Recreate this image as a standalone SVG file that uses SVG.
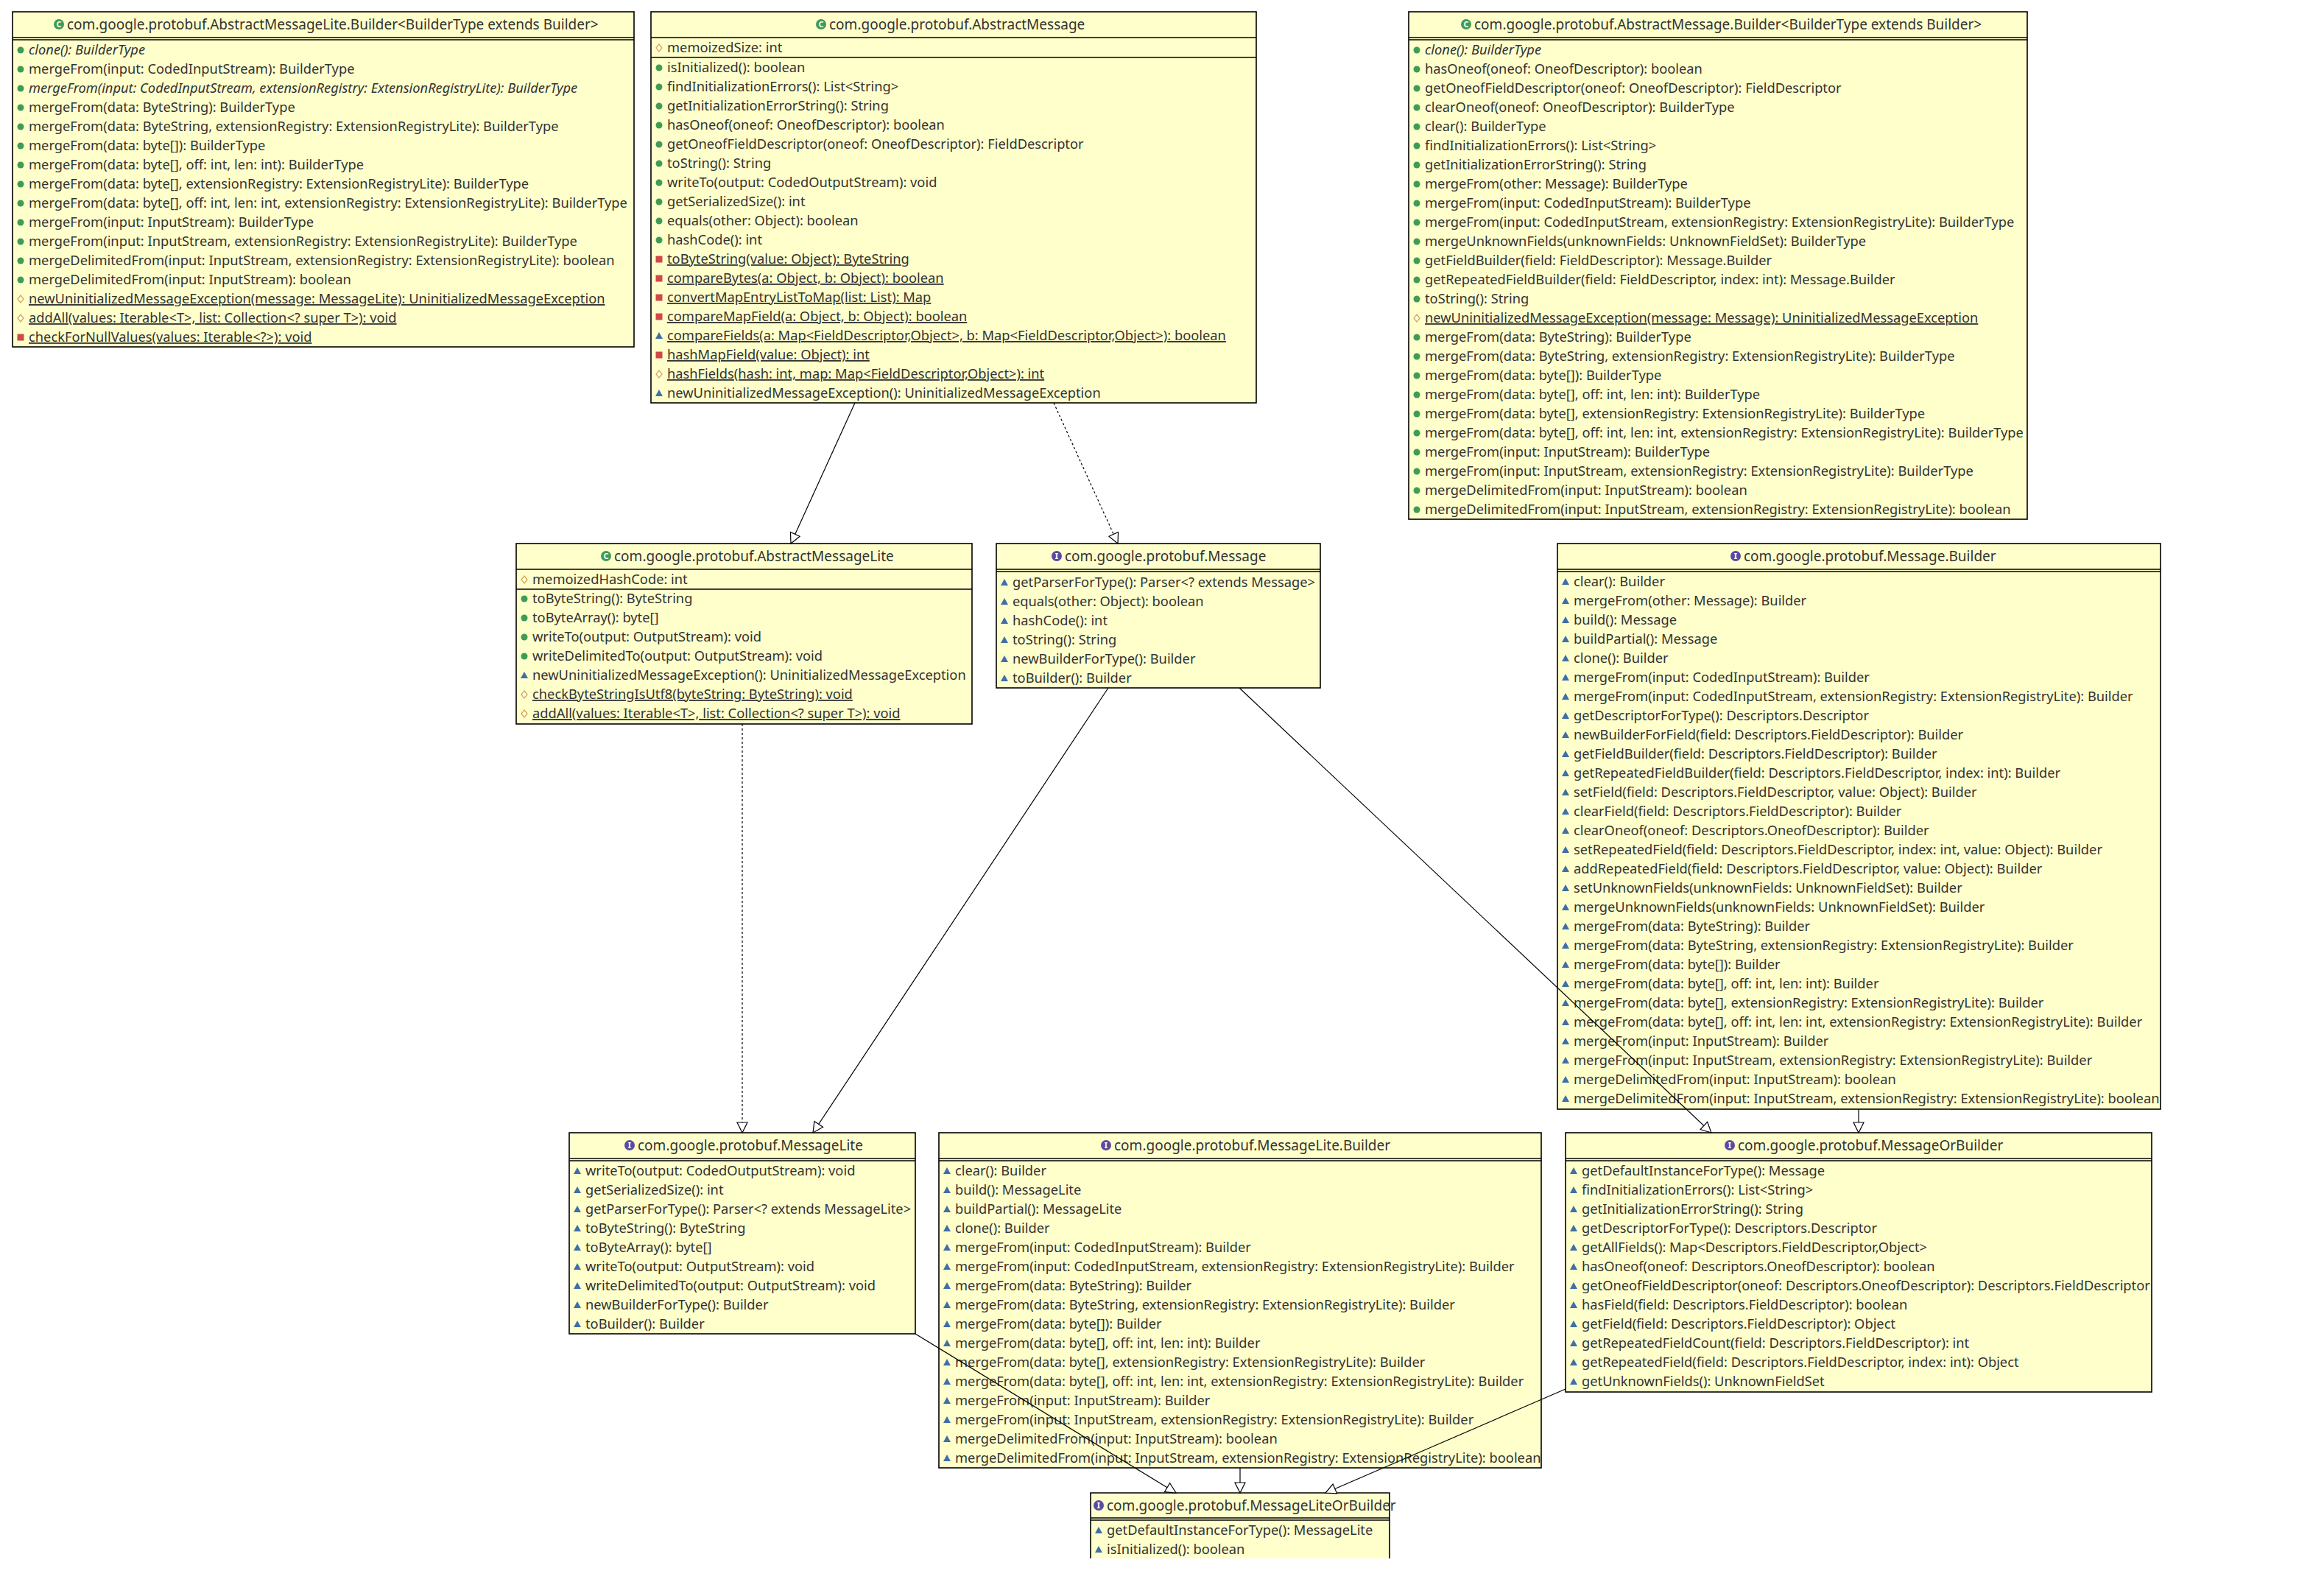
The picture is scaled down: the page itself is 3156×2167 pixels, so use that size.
<svg xmlns="http://www.w3.org/2000/svg" xmlns:xlink="http://www.w3.org/1999/xlink" width="3156" height="2167" viewBox="0 0 3156 2167">
<style>
.box{fill:#ffffcc;stroke:#000;stroke-width:1.6}
.ln{stroke:#000;stroke-width:1.6;fill:none}
text{font-family:"Noto Sans","DejaVu Sans",sans-serif;font-size:18.3px;fill:#333}
.h{font-size:19px}
.u{text-decoration:underline}
.i{font-style:italic}
.ic{font-size:11px;font-weight:bold;fill:#fff;text-anchor:middle}
.e{stroke:#000;stroke-width:1.2;fill:none;marker-end:url(#tri)}
.d{stroke-dasharray:3,3}
</style>
<defs>
<marker id="tri" markerWidth="16" markerHeight="16" refX="15" refY="8" orient="auto" markerUnits="userSpaceOnUse"><path d="M1,1 L15,8 L1,15 z" fill="#fff" stroke="#000" stroke-width="1.2"/></marker>
<circle id="p" r="4.5" fill="#3f9c55"/>
<path id="k" d="M0,-5 L5,4 L-5,4 z" fill="#3e6fa8"/>
<rect id="r" x="-4.5" y="-4.5" width="9" height="9" fill="#d04848"/>
<path id="o" d="M0,-5 L4,0 L0,5 L-4,0 z" fill="#fff" stroke="#d8a848" stroke-width="1.3"/>
</defs>

<g id="AbstractMessageLiteBuilder">
<rect class="box" x="17" y="16" width="844" height="455"/>
<line class="ln" x1="17" y1="51" x2="861" y2="51"/><line class="ln" x1="17" y1="54" x2="861" y2="54"/>
<circle cx="80" cy="33" r="7" fill="#3f9c55"/><text class="ic" x="80" y="37">C</text>
<text class="h" x="91" y="40">com.google.protobuf.AbstractMessageLite.Builder&lt;BuilderType extends Builder&gt;</text>
<use href="#p" x="28" y="68"/><text class="i" x="39" y="74">clone(): BuilderType</text>
<use href="#p" x="28" y="94"/><text x="39" y="100">mergeFrom(input: CodedInputStream): BuilderType</text>
<use href="#p" x="28" y="120"/><text class="i" x="39" y="126">mergeFrom(input: CodedInputStream, extensionRegistry: ExtensionRegistryLite): BuilderType</text>
<use href="#p" x="28" y="146"/><text x="39" y="152">mergeFrom(data: ByteString): BuilderType</text>
<use href="#p" x="28" y="172"/><text x="39" y="178">mergeFrom(data: ByteString, extensionRegistry: ExtensionRegistryLite): BuilderType</text>
<use href="#p" x="28" y="198"/><text x="39" y="204">mergeFrom(data: byte[]): BuilderType</text>
<use href="#p" x="28" y="224"/><text x="39" y="230">mergeFrom(data: byte[], off: int, len: int): BuilderType</text>
<use href="#p" x="28" y="250"/><text x="39" y="256">mergeFrom(data: byte[], extensionRegistry: ExtensionRegistryLite): BuilderType</text>
<use href="#p" x="28" y="276"/><text x="39" y="282">mergeFrom(data: byte[], off: int, len: int, extensionRegistry: ExtensionRegistryLite): BuilderType</text>
<use href="#p" x="28" y="302"/><text x="39" y="308">mergeFrom(input: InputStream): BuilderType</text>
<use href="#p" x="28" y="328"/><text x="39" y="334">mergeFrom(input: InputStream, extensionRegistry: ExtensionRegistryLite): BuilderType</text>
<use href="#p" x="28" y="354"/><text x="39" y="360">mergeDelimitedFrom(input: InputStream, extensionRegistry: ExtensionRegistryLite): boolean</text>
<use href="#p" x="28" y="380"/><text x="39" y="386">mergeDelimitedFrom(input: InputStream): boolean</text>
<use href="#o" x="28" y="406"/><text class="u" x="39" y="412">newUninitializedMessageException(message: MessageLite): UninitializedMessageException</text>
<use href="#o" x="28" y="432"/><text class="u" x="39" y="438">addAll(values: Iterable&lt;T&gt;, list: Collection&lt;? super T&gt;): void</text>
<use href="#r" x="28" y="458"/><text class="u" x="39" y="464">checkForNullValues(values: Iterable&lt;?&gt;): void</text>
</g>

<g id="AbstractMessage">
<rect class="box" x="884" y="16" width="822" height="531"/>
<line class="ln" x1="884" y1="51" x2="1706" y2="51"/><line class="ln" x1="884" y1="78" x2="1706" y2="78"/>
<circle cx="1115" cy="33" r="7" fill="#3f9c55"/><text class="ic" x="1115" y="37">C</text>
<text class="h" x="1126" y="40">com.google.protobuf.AbstractMessage</text>
<use href="#o" x="895" y="65"/><text x="906" y="71">memoizedSize: int</text>
<use href="#p" x="895" y="92"/><text x="906" y="98">isInitialized(): boolean</text>
<use href="#p" x="895" y="118"/><text x="906" y="124">findInitializationErrors(): List&lt;String&gt;</text>
<use href="#p" x="895" y="144"/><text x="906" y="150">getInitializationErrorString(): String</text>
<use href="#p" x="895" y="170"/><text x="906" y="176">hasOneof(oneof: OneofDescriptor): boolean</text>
<use href="#p" x="895" y="196"/><text x="906" y="202">getOneofFieldDescriptor(oneof: OneofDescriptor): FieldDescriptor</text>
<use href="#p" x="895" y="222"/><text x="906" y="228">toString(): String</text>
<use href="#p" x="895" y="248"/><text x="906" y="254">writeTo(output: CodedOutputStream): void</text>
<use href="#p" x="895" y="274"/><text x="906" y="280">getSerializedSize(): int</text>
<use href="#p" x="895" y="300"/><text x="906" y="306">equals(other: Object): boolean</text>
<use href="#p" x="895" y="326"/><text x="906" y="332">hashCode(): int</text>
<use href="#r" x="895" y="352"/><text class="u" x="906" y="358">toByteString(value: Object): ByteString</text>
<use href="#r" x="895" y="378"/><text class="u" x="906" y="384">compareBytes(a: Object, b: Object): boolean</text>
<use href="#r" x="895" y="404"/><text class="u" x="906" y="410">convertMapEntryListToMap(list: List): Map</text>
<use href="#r" x="895" y="430"/><text class="u" x="906" y="436">compareMapField(a: Object, b: Object): boolean</text>
<use href="#k" x="895" y="456"/><text class="u" x="906" y="462">compareFields(a: Map&lt;FieldDescriptor,Object&gt;, b: Map&lt;FieldDescriptor,Object&gt;): boolean</text>
<use href="#r" x="895" y="482"/><text class="u" x="906" y="488">hashMapField(value: Object): int</text>
<use href="#o" x="895" y="508"/><text class="u" x="906" y="514">hashFields(hash: int, map: Map&lt;FieldDescriptor,Object&gt;): int</text>
<use href="#k" x="895" y="534"/><text x="906" y="540">newUninitializedMessageException(): UninitializedMessageException</text>
</g>

<g id="AbstractMessageBuilder">
<rect class="box" x="1913" y="16" width="840" height="689"/>
<line class="ln" x1="1913" y1="51" x2="2753" y2="51"/><line class="ln" x1="1913" y1="54" x2="2753" y2="54"/>
<circle cx="1991" cy="33" r="7" fill="#3f9c55"/><text class="ic" x="1991" y="37">C</text>
<text class="h" x="2002" y="40">com.google.protobuf.AbstractMessage.Builder&lt;BuilderType extends Builder&gt;</text>
<use href="#p" x="1924" y="68"/><text class="i" x="1935" y="74">clone(): BuilderType</text>
<use href="#p" x="1924" y="94"/><text x="1935" y="100">hasOneof(oneof: OneofDescriptor): boolean</text>
<use href="#p" x="1924" y="120"/><text x="1935" y="126">getOneofFieldDescriptor(oneof: OneofDescriptor): FieldDescriptor</text>
<use href="#p" x="1924" y="146"/><text x="1935" y="152">clearOneof(oneof: OneofDescriptor): BuilderType</text>
<use href="#p" x="1924" y="172"/><text x="1935" y="178">clear(): BuilderType</text>
<use href="#p" x="1924" y="198"/><text x="1935" y="204">findInitializationErrors(): List&lt;String&gt;</text>
<use href="#p" x="1924" y="224"/><text x="1935" y="230">getInitializationErrorString(): String</text>
<use href="#p" x="1924" y="250"/><text x="1935" y="256">mergeFrom(other: Message): BuilderType</text>
<use href="#p" x="1924" y="276"/><text x="1935" y="282">mergeFrom(input: CodedInputStream): BuilderType</text>
<use href="#p" x="1924" y="302"/><text x="1935" y="308">mergeFrom(input: CodedInputStream, extensionRegistry: ExtensionRegistryLite): BuilderType</text>
<use href="#p" x="1924" y="328"/><text x="1935" y="334">mergeUnknownFields(unknownFields: UnknownFieldSet): BuilderType</text>
<use href="#p" x="1924" y="354"/><text x="1935" y="360">getFieldBuilder(field: FieldDescriptor): Message.Builder</text>
<use href="#p" x="1924" y="380"/><text x="1935" y="386">getRepeatedFieldBuilder(field: FieldDescriptor, index: int): Message.Builder</text>
<use href="#p" x="1924" y="406"/><text x="1935" y="412">toString(): String</text>
<use href="#o" x="1924" y="432"/><text class="u" x="1935" y="438">newUninitializedMessageException(message: Message): UninitializedMessageException</text>
<use href="#p" x="1924" y="458"/><text x="1935" y="464">mergeFrom(data: ByteString): BuilderType</text>
<use href="#p" x="1924" y="484"/><text x="1935" y="490">mergeFrom(data: ByteString, extensionRegistry: ExtensionRegistryLite): BuilderType</text>
<use href="#p" x="1924" y="510"/><text x="1935" y="516">mergeFrom(data: byte[]): BuilderType</text>
<use href="#p" x="1924" y="536"/><text x="1935" y="542">mergeFrom(data: byte[], off: int, len: int): BuilderType</text>
<use href="#p" x="1924" y="562"/><text x="1935" y="568">mergeFrom(data: byte[], extensionRegistry: ExtensionRegistryLite): BuilderType</text>
<use href="#p" x="1924" y="588"/><text x="1935" y="594">mergeFrom(data: byte[], off: int, len: int, extensionRegistry: ExtensionRegistryLite): BuilderType</text>
<use href="#p" x="1924" y="614"/><text x="1935" y="620">mergeFrom(input: InputStream): BuilderType</text>
<use href="#p" x="1924" y="640"/><text x="1935" y="646">mergeFrom(input: InputStream, extensionRegistry: ExtensionRegistryLite): BuilderType</text>
<use href="#p" x="1924" y="666"/><text x="1935" y="672">mergeDelimitedFrom(input: InputStream): boolean</text>
<use href="#p" x="1924" y="692"/><text x="1935" y="698">mergeDelimitedFrom(input: InputStream, extensionRegistry: ExtensionRegistryLite): boolean</text>
</g>

<g id="AbstractMessageLite">
<rect class="box" x="701" y="738" width="619" height="245"/>
<line class="ln" x1="701" y1="773" x2="1320" y2="773"/><line class="ln" x1="701" y1="800" x2="1320" y2="800"/>
<circle cx="823" cy="755" r="7" fill="#3f9c55"/><text class="ic" x="823" y="759">C</text>
<text class="h" x="834" y="762">com.google.protobuf.AbstractMessageLite</text>
<use href="#o" x="712" y="787"/><text x="723" y="793">memoizedHashCode: int</text>
<use href="#p" x="712" y="813"/><text x="723" y="819">toByteString(): ByteString</text>
<use href="#p" x="712" y="839"/><text x="723" y="845">toByteArray(): byte[]</text>
<use href="#p" x="712" y="865"/><text x="723" y="871">writeTo(output: OutputStream): void</text>
<use href="#p" x="712" y="891"/><text x="723" y="897">writeDelimitedTo(output: OutputStream): void</text>
<use href="#k" x="712" y="917"/><text x="723" y="923">newUninitializedMessageException(): UninitializedMessageException</text>
<use href="#o" x="712" y="943"/><text class="u" x="723" y="949">checkByteStringIsUtf8(byteString: ByteString): void</text>
<use href="#o" x="712" y="969"/><text class="u" x="723" y="975">addAll(values: Iterable&lt;T&gt;, list: Collection&lt;? super T&gt;): void</text>
</g>

<g id="Message">
<rect class="box" x="1353" y="738" width="440" height="196"/>
<line class="ln" x1="1353" y1="773" x2="1793" y2="773"/><line class="ln" x1="1353" y1="776" x2="1793" y2="776"/>
<circle cx="1435" cy="755" r="7" fill="#5b4aa0"/><text class="ic" x="1435" y="759">I</text>
<text class="h" x="1446" y="762">com.google.protobuf.Message</text>
<use href="#k" x="1364" y="791"/><text x="1375" y="797">getParserForType(): Parser&lt;? extends Message&gt;</text>
<use href="#k" x="1364" y="817"/><text x="1375" y="823">equals(other: Object): boolean</text>
<use href="#k" x="1364" y="843"/><text x="1375" y="849">hashCode(): int</text>
<use href="#k" x="1364" y="869"/><text x="1375" y="875">toString(): String</text>
<use href="#k" x="1364" y="895"/><text x="1375" y="901">newBuilderForType(): Builder</text>
<use href="#k" x="1364" y="921"/><text x="1375" y="927">toBuilder(): Builder</text>
</g>

<g id="MessageBuilder">
<rect class="box" x="2115" y="738" width="819" height="768"/>
<line class="ln" x1="2115" y1="773" x2="2934" y2="773"/><line class="ln" x1="2115" y1="776" x2="2934" y2="776"/>
<circle cx="2357" cy="755" r="7" fill="#5b4aa0"/><text class="ic" x="2357" y="759">I</text>
<text class="h" x="2368" y="762">com.google.protobuf.Message.Builder</text>
<use href="#k" x="2126" y="790"/><text x="2137" y="796">clear(): Builder</text>
<use href="#k" x="2126" y="816"/><text x="2137" y="822">mergeFrom(other: Message): Builder</text>
<use href="#k" x="2126" y="842"/><text x="2137" y="848">build(): Message</text>
<use href="#k" x="2126" y="868"/><text x="2137" y="874">buildPartial(): Message</text>
<use href="#k" x="2126" y="894"/><text x="2137" y="900">clone(): Builder</text>
<use href="#k" x="2126" y="920"/><text x="2137" y="926">mergeFrom(input: CodedInputStream): Builder</text>
<use href="#k" x="2126" y="946"/><text x="2137" y="952">mergeFrom(input: CodedInputStream, extensionRegistry: ExtensionRegistryLite): Builder</text>
<use href="#k" x="2126" y="972"/><text x="2137" y="978">getDescriptorForType(): Descriptors.Descriptor</text>
<use href="#k" x="2126" y="998"/><text x="2137" y="1004">newBuilderForField(field: Descriptors.FieldDescriptor): Builder</text>
<use href="#k" x="2126" y="1024"/><text x="2137" y="1030">getFieldBuilder(field: Descriptors.FieldDescriptor): Builder</text>
<use href="#k" x="2126" y="1050"/><text x="2137" y="1056">getRepeatedFieldBuilder(field: Descriptors.FieldDescriptor, index: int): Builder</text>
<use href="#k" x="2126" y="1076"/><text x="2137" y="1082">setField(field: Descriptors.FieldDescriptor, value: Object): Builder</text>
<use href="#k" x="2126" y="1102"/><text x="2137" y="1108">clearField(field: Descriptors.FieldDescriptor): Builder</text>
<use href="#k" x="2126" y="1128"/><text x="2137" y="1134">clearOneof(oneof: Descriptors.OneofDescriptor): Builder</text>
<use href="#k" x="2126" y="1154"/><text x="2137" y="1160">setRepeatedField(field: Descriptors.FieldDescriptor, index: int, value: Object): Builder</text>
<use href="#k" x="2126" y="1180"/><text x="2137" y="1186">addRepeatedField(field: Descriptors.FieldDescriptor, value: Object): Builder</text>
<use href="#k" x="2126" y="1206"/><text x="2137" y="1212">setUnknownFields(unknownFields: UnknownFieldSet): Builder</text>
<use href="#k" x="2126" y="1232"/><text x="2137" y="1238">mergeUnknownFields(unknownFields: UnknownFieldSet): Builder</text>
<use href="#k" x="2126" y="1258"/><text x="2137" y="1264">mergeFrom(data: ByteString): Builder</text>
<use href="#k" x="2126" y="1284"/><text x="2137" y="1290">mergeFrom(data: ByteString, extensionRegistry: ExtensionRegistryLite): Builder</text>
<use href="#k" x="2126" y="1310"/><text x="2137" y="1316">mergeFrom(data: byte[]): Builder</text>
<use href="#k" x="2126" y="1336"/><text x="2137" y="1342">mergeFrom(data: byte[], off: int, len: int): Builder</text>
<use href="#k" x="2126" y="1362"/><text x="2137" y="1368">mergeFrom(data: byte[], extensionRegistry: ExtensionRegistryLite): Builder</text>
<use href="#k" x="2126" y="1388"/><text x="2137" y="1394">mergeFrom(data: byte[], off: int, len: int, extensionRegistry: ExtensionRegistryLite): Builder</text>
<use href="#k" x="2126" y="1414"/><text x="2137" y="1420">mergeFrom(input: InputStream): Builder</text>
<use href="#k" x="2126" y="1440"/><text x="2137" y="1446">mergeFrom(input: InputStream, extensionRegistry: ExtensionRegistryLite): Builder</text>
<use href="#k" x="2126" y="1466"/><text x="2137" y="1472">mergeDelimitedFrom(input: InputStream): boolean</text>
<use href="#k" x="2126" y="1492"/><text x="2137" y="1498">mergeDelimitedFrom(input: InputStream, extensionRegistry: ExtensionRegistryLite): boolean</text>
</g>

<g id="MessageLite">
<rect class="box" x="773" y="1538" width="470" height="273"/>
<line class="ln" x1="773" y1="1573" x2="1243" y2="1573"/><line class="ln" x1="773" y1="1576" x2="1243" y2="1576"/>
<circle cx="855" cy="1555" r="7" fill="#5b4aa0"/><text class="ic" x="855" y="1559">I</text>
<text class="h" x="866" y="1562">com.google.protobuf.MessageLite</text>
<use href="#k" x="784" y="1590"/><text x="795" y="1596">writeTo(output: CodedOutputStream): void</text>
<use href="#k" x="784" y="1616"/><text x="795" y="1622">getSerializedSize(): int</text>
<use href="#k" x="784" y="1642"/><text x="795" y="1648">getParserForType(): Parser&lt;? extends MessageLite&gt;</text>
<use href="#k" x="784" y="1668"/><text x="795" y="1674">toByteString(): ByteString</text>
<use href="#k" x="784" y="1694"/><text x="795" y="1700">toByteArray(): byte[]</text>
<use href="#k" x="784" y="1720"/><text x="795" y="1726">writeTo(output: OutputStream): void</text>
<use href="#k" x="784" y="1746"/><text x="795" y="1752">writeDelimitedTo(output: OutputStream): void</text>
<use href="#k" x="784" y="1772"/><text x="795" y="1778">newBuilderForType(): Builder</text>
<use href="#k" x="784" y="1798"/><text x="795" y="1804">toBuilder(): Builder</text>
</g>

<g id="MessageLiteBuilder">
<rect class="box" x="1275" y="1538" width="818" height="455"/>
<line class="ln" x1="1275" y1="1573" x2="2093" y2="1573"/><line class="ln" x1="1275" y1="1576" x2="2093" y2="1576"/>
<circle cx="1502" cy="1555" r="7" fill="#5b4aa0"/><text class="ic" x="1502" y="1559">I</text>
<text class="h" x="1513" y="1562">com.google.protobuf.MessageLite.Builder</text>
<use href="#k" x="1286" y="1590"/><text x="1297" y="1596">clear(): Builder</text>
<use href="#k" x="1286" y="1616"/><text x="1297" y="1622">build(): MessageLite</text>
<use href="#k" x="1286" y="1642"/><text x="1297" y="1648">buildPartial(): MessageLite</text>
<use href="#k" x="1286" y="1668"/><text x="1297" y="1674">clone(): Builder</text>
<use href="#k" x="1286" y="1694"/><text x="1297" y="1700">mergeFrom(input: CodedInputStream): Builder</text>
<use href="#k" x="1286" y="1720"/><text x="1297" y="1726">mergeFrom(input: CodedInputStream, extensionRegistry: ExtensionRegistryLite): Builder</text>
<use href="#k" x="1286" y="1746"/><text x="1297" y="1752">mergeFrom(data: ByteString): Builder</text>
<use href="#k" x="1286" y="1772"/><text x="1297" y="1778">mergeFrom(data: ByteString, extensionRegistry: ExtensionRegistryLite): Builder</text>
<use href="#k" x="1286" y="1798"/><text x="1297" y="1804">mergeFrom(data: byte[]): Builder</text>
<use href="#k" x="1286" y="1824"/><text x="1297" y="1830">mergeFrom(data: byte[], off: int, len: int): Builder</text>
<use href="#k" x="1286" y="1850"/><text x="1297" y="1856">mergeFrom(data: byte[], extensionRegistry: ExtensionRegistryLite): Builder</text>
<use href="#k" x="1286" y="1876"/><text x="1297" y="1882">mergeFrom(data: byte[], off: int, len: int, extensionRegistry: ExtensionRegistryLite): Builder</text>
<use href="#k" x="1286" y="1902"/><text x="1297" y="1908">mergeFrom(input: InputStream): Builder</text>
<use href="#k" x="1286" y="1928"/><text x="1297" y="1934">mergeFrom(input: InputStream, extensionRegistry: ExtensionRegistryLite): Builder</text>
<use href="#k" x="1286" y="1954"/><text x="1297" y="1960">mergeDelimitedFrom(input: InputStream): boolean</text>
<use href="#k" x="1286" y="1980"/><text x="1297" y="1986">mergeDelimitedFrom(input: InputStream, extensionRegistry: ExtensionRegistryLite): boolean</text>
</g>

<g id="MessageOrBuilder">
<rect class="box" x="2126" y="1538" width="796" height="352"/>
<line class="ln" x1="2126" y1="1573" x2="2922" y2="1573"/><line class="ln" x1="2126" y1="1576" x2="2922" y2="1576"/>
<circle cx="2349" cy="1555" r="7" fill="#5b4aa0"/><text class="ic" x="2349" y="1559">I</text>
<text class="h" x="2360" y="1562">com.google.protobuf.MessageOrBuilder</text>
<use href="#k" x="2137" y="1590"/><text x="2148" y="1596">getDefaultInstanceForType(): Message</text>
<use href="#k" x="2137" y="1616"/><text x="2148" y="1622">findInitializationErrors(): List&lt;String&gt;</text>
<use href="#k" x="2137" y="1642"/><text x="2148" y="1648">getInitializationErrorString(): String</text>
<use href="#k" x="2137" y="1668"/><text x="2148" y="1674">getDescriptorForType(): Descriptors.Descriptor</text>
<use href="#k" x="2137" y="1694"/><text x="2148" y="1700">getAllFields(): Map&lt;Descriptors.FieldDescriptor,Object&gt;</text>
<use href="#k" x="2137" y="1720"/><text x="2148" y="1726">hasOneof(oneof: Descriptors.OneofDescriptor): boolean</text>
<use href="#k" x="2137" y="1746"/><text x="2148" y="1752">getOneofFieldDescriptor(oneof: Descriptors.OneofDescriptor): Descriptors.FieldDescriptor</text>
<use href="#k" x="2137" y="1772"/><text x="2148" y="1778">hasField(field: Descriptors.FieldDescriptor): boolean</text>
<use href="#k" x="2137" y="1798"/><text x="2148" y="1804">getField(field: Descriptors.FieldDescriptor): Object</text>
<use href="#k" x="2137" y="1824"/><text x="2148" y="1830">getRepeatedFieldCount(field: Descriptors.FieldDescriptor): int</text>
<use href="#k" x="2137" y="1850"/><text x="2148" y="1856">getRepeatedField(field: Descriptors.FieldDescriptor, index: int): Object</text>
<use href="#k" x="2137" y="1876"/><text x="2148" y="1882">getUnknownFields(): UnknownFieldSet</text>
</g>

<g id="MessageLiteOrBuilder">
<rect x="1481" y="2027" width="406" height="89" fill="#ffffcc"/>
<path class="ln" d="M1481,2116 V2027 H1887 V2116"/>
<line class="ln" x1="1481" y1="2061" x2="1887" y2="2061"/><line class="ln" x1="1481" y1="2064" x2="1887" y2="2064"/>
<circle cx="1492" cy="2044" r="7" fill="#5b4aa0"/><text class="ic" x="1492" y="2048">I</text>
<text class="h" x="1503" y="2051">com.google.protobuf.MessageLiteOrBuilder</text>
<use href="#k" x="1492" y="2078"/><text x="1503" y="2084">getDefaultInstanceForType(): MessageLite</text>
<use href="#k" x="1492" y="2104"/><text x="1503" y="2110">isInitialized(): boolean</text>
</g>

<g id="connectors">
<line class="e" x1="1161" y1="547" x2="1074" y2="738"/>
<line class="e d" x1="1431" y1="547" x2="1518" y2="738"/>
<line class="e d" x1="1008" y1="983" x2="1008" y2="1538"/>
<line class="e" x1="1505" y1="934" x2="1104" y2="1538"/>
<line class="e" x1="1683" y1="934" x2="2324" y2="1538"/>
<line class="e" x1="2524" y1="1506" x2="2524" y2="1538"/>
<line class="e" x1="1243" y1="1811" x2="1597" y2="2027"/>
<line class="e" x1="1684" y1="1993" x2="1684" y2="2027"/>
<line class="e" x1="2126" y1="1886" x2="1800" y2="2027"/>
</g>
</svg>
